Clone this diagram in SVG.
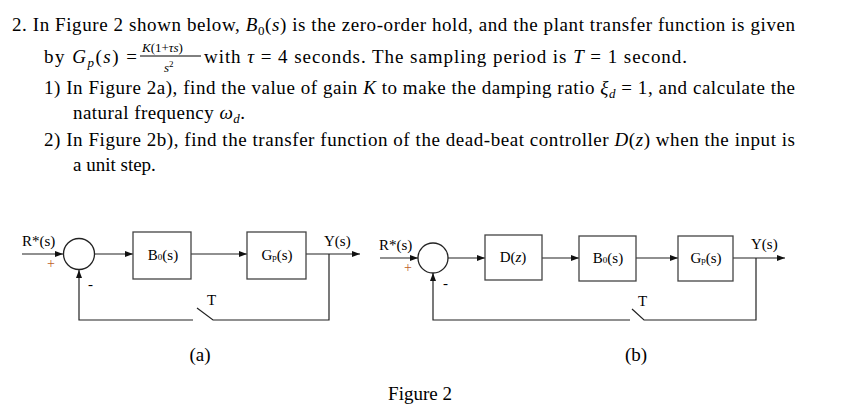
<svg xmlns="http://www.w3.org/2000/svg" width="863" height="416" viewBox="0 0 863 416">
<style>
text{font-family:"Liberation Serif","Times New Roman",serif;fill:#000}
.p{font-size:19px}
.i{font-style:italic}
.box{fill:#fff;stroke:#444;stroke-width:1.3}
.ln{fill:none;stroke:#222;stroke-width:1.2}
.sum{fill:#fff;stroke:#222;stroke-width:1.3}
.or{fill:#c0602a;font-size:14px}
.bl{font-size:15px}
</style>
<defs><marker id="a" markerWidth="8" markerHeight="6" refX="8" refY="3" orient="auto" markerUnits="userSpaceOnUse"><path d="M0,0L8,3L0,6z" fill="#111"/></marker></defs>
<g id="problem">
<text class="p" x="12" y="31" textLength="783" lengthAdjust="spacing">2.  In Figure 2 shown below, <tspan class="i">B</tspan><tspan font-size="13" dy="4">0</tspan><tspan dy="-4">(</tspan><tspan class="i">s</tspan>) is the zero-order hold, and the plant transfer function is given</text>
<text class="p" x="44" y="63" textLength="93" lengthAdjust="spacing">by <tspan class="i">G</tspan><tspan class="i" font-size="13" dy="4">p</tspan><tspan dy="-4">(</tspan><tspan class="i">s</tspan>) =</text>
<text x="142" y="52" font-size="13" class="i">K<tspan font-style="normal">(1+</tspan>τs<tspan font-style="normal">)</tspan></text>
<line x1="140" y1="56" x2="201" y2="56" stroke="#000" stroke-width="1"/>
<text x="164" y="72" font-size="13" class="i">s<tspan font-style="normal" font-size="9" dy="-5">2</tspan></text>
<text class="p" x="204" y="63" textLength="483" lengthAdjust="spacing">with <tspan class="i">τ</tspan> = 4 seconds. The sampling period is <tspan class="i">T</tspan> = 1 second.</text>
<text class="p" x="44" y="94" textLength="751" lengthAdjust="spacing">1)  In Figure 2a), find the value of gain <tspan class="i">K</tspan> to make the damping ratio <tspan class="i">ξ</tspan><tspan class="i" font-size="13" dy="4">d</tspan><tspan dy="-4"> = 1, and calculate the</tspan></text>
<text class="p" x="73" y="119" textLength="172" lengthAdjust="spacing">natural frequency <tspan class="i">ω</tspan><tspan class="i" font-size="13" dy="4">d</tspan><tspan dy="-4">.</tspan></text>
<text class="p" x="44" y="146" textLength="751" lengthAdjust="spacing">2)  In Figure 2b), find the transfer function of the dead-beat controller <tspan class="i">D</tspan>(<tspan class="i">z</tspan>) when the input is</text>
<text class="p" x="73" y="171">a unit step.</text>
</g>
<g id="connectors">
<line class="ln" x1="22" y1="254" x2="63" y2="254" marker-end="url(#a)"/>
<line class="ln" x1="94" y1="254" x2="133" y2="254" marker-end="url(#a)"/>
<line class="ln" x1="191" y1="254" x2="247" y2="254" marker-end="url(#a)"/>
<line class="ln" x1="306" y1="254" x2="360" y2="254" marker-end="url(#a)"/>
<polyline class="ln" points="329,254 329,320 213,320 197,308"/>
<polyline class="ln" points="193,320 79,320 79,270" marker-end="url(#a)"/>
<line class="ln" x1="380" y1="258" x2="418" y2="258" marker-end="url(#a)"/>
<line class="ln" x1="448" y1="258" x2="485" y2="258" marker-end="url(#a)"/>
<line class="ln" x1="542" y1="258" x2="579" y2="258" marker-end="url(#a)"/>
<line class="ln" x1="636" y1="258" x2="678" y2="258" marker-end="url(#a)"/>
<line class="ln" x1="733" y1="258" x2="785" y2="258" marker-end="url(#a)"/>
<polyline class="ln" points="756,258 756,320 644,320 632,309"/>
<polyline class="ln" points="630,320 433,320 433,273" marker-end="url(#a)"/>
</g>
<g id="sum1"><circle class="sum" cx="79" cy="254" r="15.5"/></g>
<g id="b0a"><rect class="box" x="133" y="232" width="58" height="47"/><text class="bl" x="163" y="260" text-anchor="middle">B<tspan font-size="9">0</tspan>(s)</text></g>
<g id="gpa"><rect class="box" x="247" y="232" width="59" height="47"/><text class="bl" x="277" y="260" text-anchor="middle">G<tspan font-size="9">p</tspan>(s)</text></g>
<g id="sum2"><circle class="sum" cx="433" cy="258" r="15"/></g>
<g id="d"><rect class="box" x="485" y="235" width="57" height="45"/><text class="bl" x="513" y="262" text-anchor="middle">D(<tspan class="i">z</tspan>)</text></g>
<g id="b0b"><rect class="box" x="579" y="236" width="57" height="45"/><text class="bl" x="608" y="263" text-anchor="middle">B<tspan font-size="9">0</tspan>(s)</text></g>
<g id="gpb"><rect class="box" x="678" y="236" width="55" height="45"/><text class="bl" x="706" y="263" text-anchor="middle">G<tspan font-size="9">p</tspan>(s)</text></g>
<g id="labels">
<text x="22" y="246" font-size="15">R*(s)</text>
<text class="or" x="47" y="268">+</text>
<text x="88" y="289" font-size="15">-</text>
<text x="207" y="305" font-size="15">T</text>
<text x="324" y="246" font-size="15">Y(s)</text>
<text x="379" y="250" font-size="15">R*(s)</text>
<text class="or" x="404" y="272">+</text>
<text x="443" y="288" font-size="15">-</text>
<text x="638" y="306" font-size="15">T</text>
<text x="751" y="249" font-size="15">Y(s)</text>
<text x="200" y="361" font-size="19" text-anchor="middle">(a)</text>
<text x="636" y="361" font-size="19" text-anchor="middle">(b)</text>
<text x="420" y="400" font-size="19" text-anchor="middle">Figure 2</text>
</g>
</svg>
